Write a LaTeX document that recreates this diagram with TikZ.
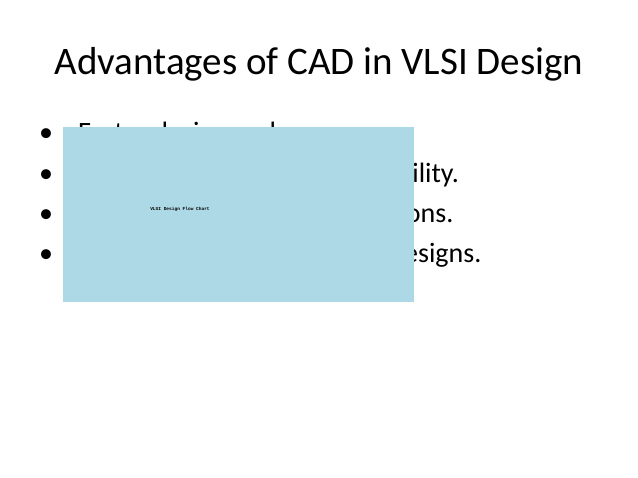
\documentclass[tikz,border=0pt]{standalone}
\usepackage{fontspec}
\setmainfont{Carlito}
\setmonofont{Liberation Mono}
\definecolor{chartblue}{HTML}{ADD8E6}
\begin{document}
\begin{tikzpicture}[x=1pt,y=-1pt,
  bullettext/.style={anchor=base west,font=\fontsize{28}{32}\selectfont,inner sep=0},
  bulletdot/.style={anchor=base,font=\fontsize{28}{32}\selectfont,inner sep=0}]
\useasboundingbox[fill=white] (0,0) rectangle (638,478);
\node[font=\fontsize{39}{44}\selectfont,anchor=base,inner sep=0] (title) at (319,75) {Advantages of CAD in VLSI Design};
\foreach \y/\t [count=\i] in {142/Faster design cycles.,183/Improved accuracy and reliability.,223/Automated design optimizations.,263/Handles large and complex designs.}{
  \node[bulletdot] (b\i) at (46,\y) {\textbullet};
  \node[bullettext] (t\i) at (78,\y) {\t};
}
\node[fill=chartblue,minimum width=351,minimum height=175,anchor=north west,inner sep=0] (chart) at (63,127) {};
\node[font=\ttfamily\bfseries\fontsize{4.5}{5}\selectfont,inner sep=0] (label) at (180,209) {VLSI Design Flow Chart};
\end{tikzpicture}
\end{document}
